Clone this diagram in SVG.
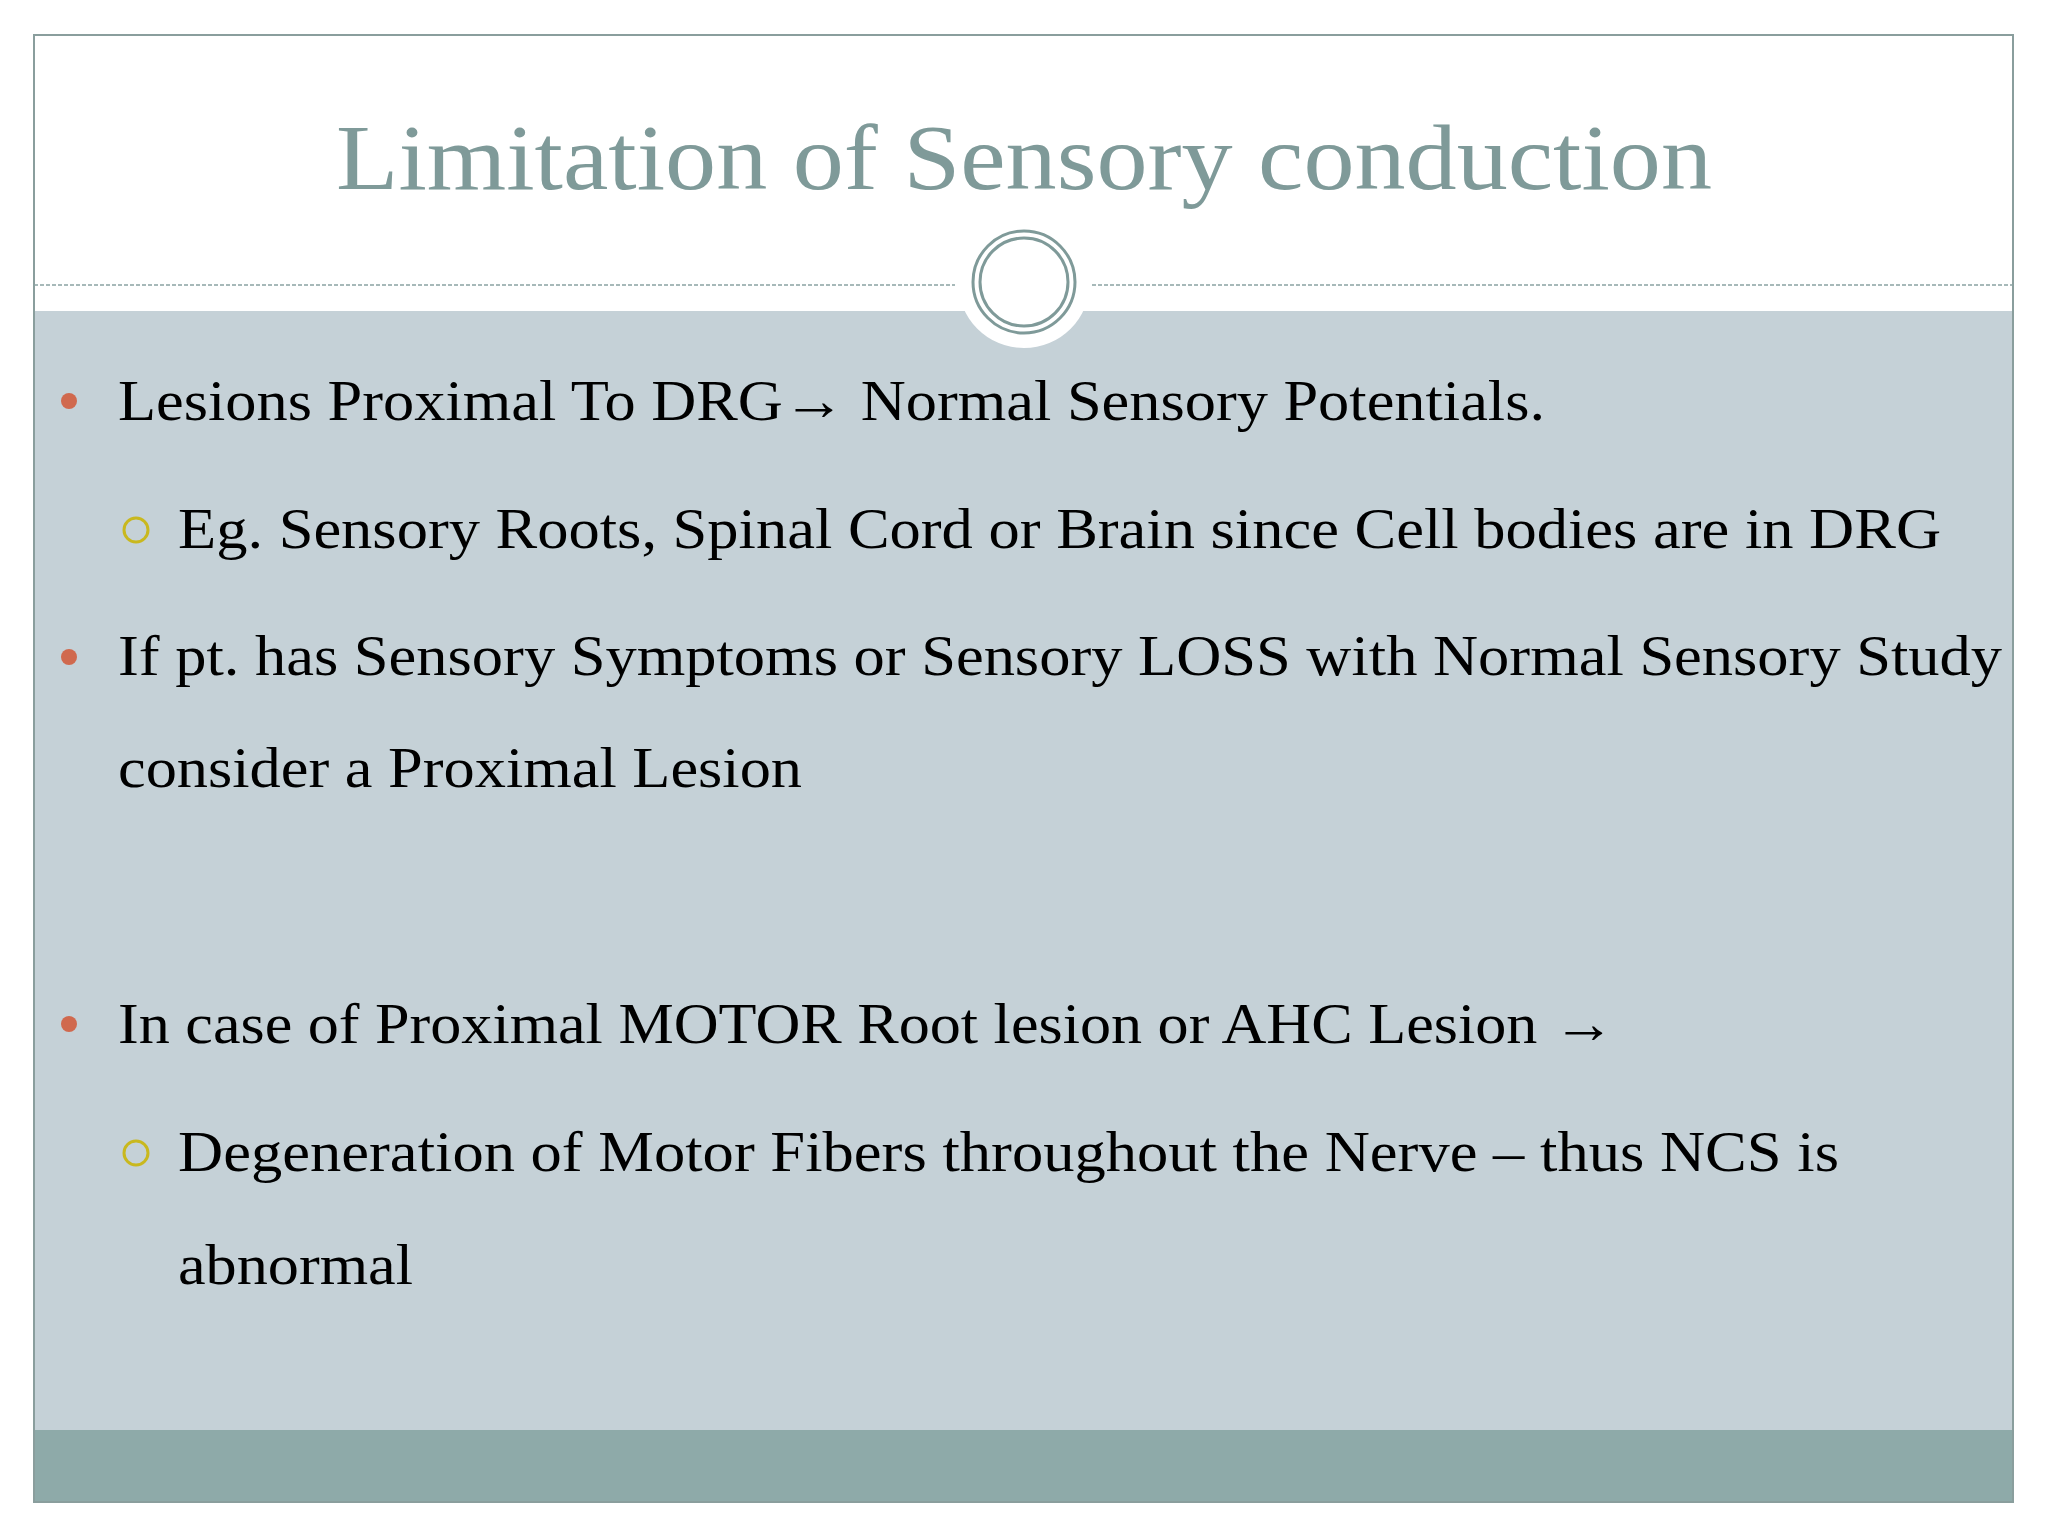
<svg xmlns="http://www.w3.org/2000/svg" width="2048" height="1536" viewBox="0 0 2048 1536">
<style>
.t{font-family:"Liberation Serif","Times New Roman",serif;font-size:58px;fill:#000}
.b{fill:#d0694e}
.s{fill:none;stroke:#c9b81e;stroke-width:3}
</style>
<rect width="2048" height="1536" fill="#fff"/>
<rect x="34" y="311" width="1979" height="1119" fill="#c5d1d7"/>
<rect x="34" y="1430" width="1979" height="72" fill="#8eaaa9"/>
<rect x="34" y="35" width="1979" height="1467" fill="none" stroke="#8a9e9d" stroke-width="2"/>
<line x1="34" y1="285" x2="955" y2="285" stroke="#8aa3a2" stroke-width="1.5" stroke-dasharray="4,2"/>
<line x1="1092" y1="285" x2="2013" y2="285" stroke="#8aa3a2" stroke-width="1.5" stroke-dasharray="4,2"/>
<g id="ornament">
<circle cx="1024" cy="282" r="66" fill="#fff"/>
<circle cx="1024" cy="282" r="51" fill="none" stroke="#7f9a99" stroke-width="3"/>
<circle cx="1024" cy="282" r="44" fill="none" stroke="#7f9a99" stroke-width="3"/>
</g>
<text id="title" x="1024" y="189" text-anchor="middle" font-family="Liberation Serif, serif" font-size="94" fill="#7f9a99" textLength="1376" lengthAdjust="spacingAndGlyphs">Limitation of Sensory conduction</text>
<g id="bullets">
<circle class="b" cx="69" cy="401" r="8"/>
<text class="t" x="118" y="420" textLength="1427" lengthAdjust="spacingAndGlyphs">Lesions Proximal To DRG→ Normal Sensory Potentials.</text>
<circle class="s" cx="136" cy="530" r="12"/>
<text class="t" x="178" y="548" textLength="1763" lengthAdjust="spacingAndGlyphs">Eg. Sensory Roots, Spinal Cord or Brain since Cell bodies are in DRG</text>
<circle class="b" cx="69" cy="657" r="8"/>
<text class="t" x="118" y="675" textLength="1884" lengthAdjust="spacingAndGlyphs">If pt. has Sensory Symptoms or Sensory LOSS with Normal Sensory Study</text>
<text class="t" x="118" y="787" textLength="684" lengthAdjust="spacingAndGlyphs">consider a Proximal Lesion</text>
<circle class="b" cx="69" cy="1024" r="8"/>
<text class="t" x="118" y="1043" textLength="1497" lengthAdjust="spacingAndGlyphs">In case of Proximal MOTOR Root lesion or AHC Lesion →</text>
<circle class="s" cx="136" cy="1153" r="12"/>
<text class="t" x="178" y="1171" textLength="1661" lengthAdjust="spacingAndGlyphs">Degeneration of Motor Fibers throughout the Nerve – thus NCS is</text>
<text class="t" x="178" y="1284" textLength="235" lengthAdjust="spacingAndGlyphs">abnormal</text>
</g>
</svg>
